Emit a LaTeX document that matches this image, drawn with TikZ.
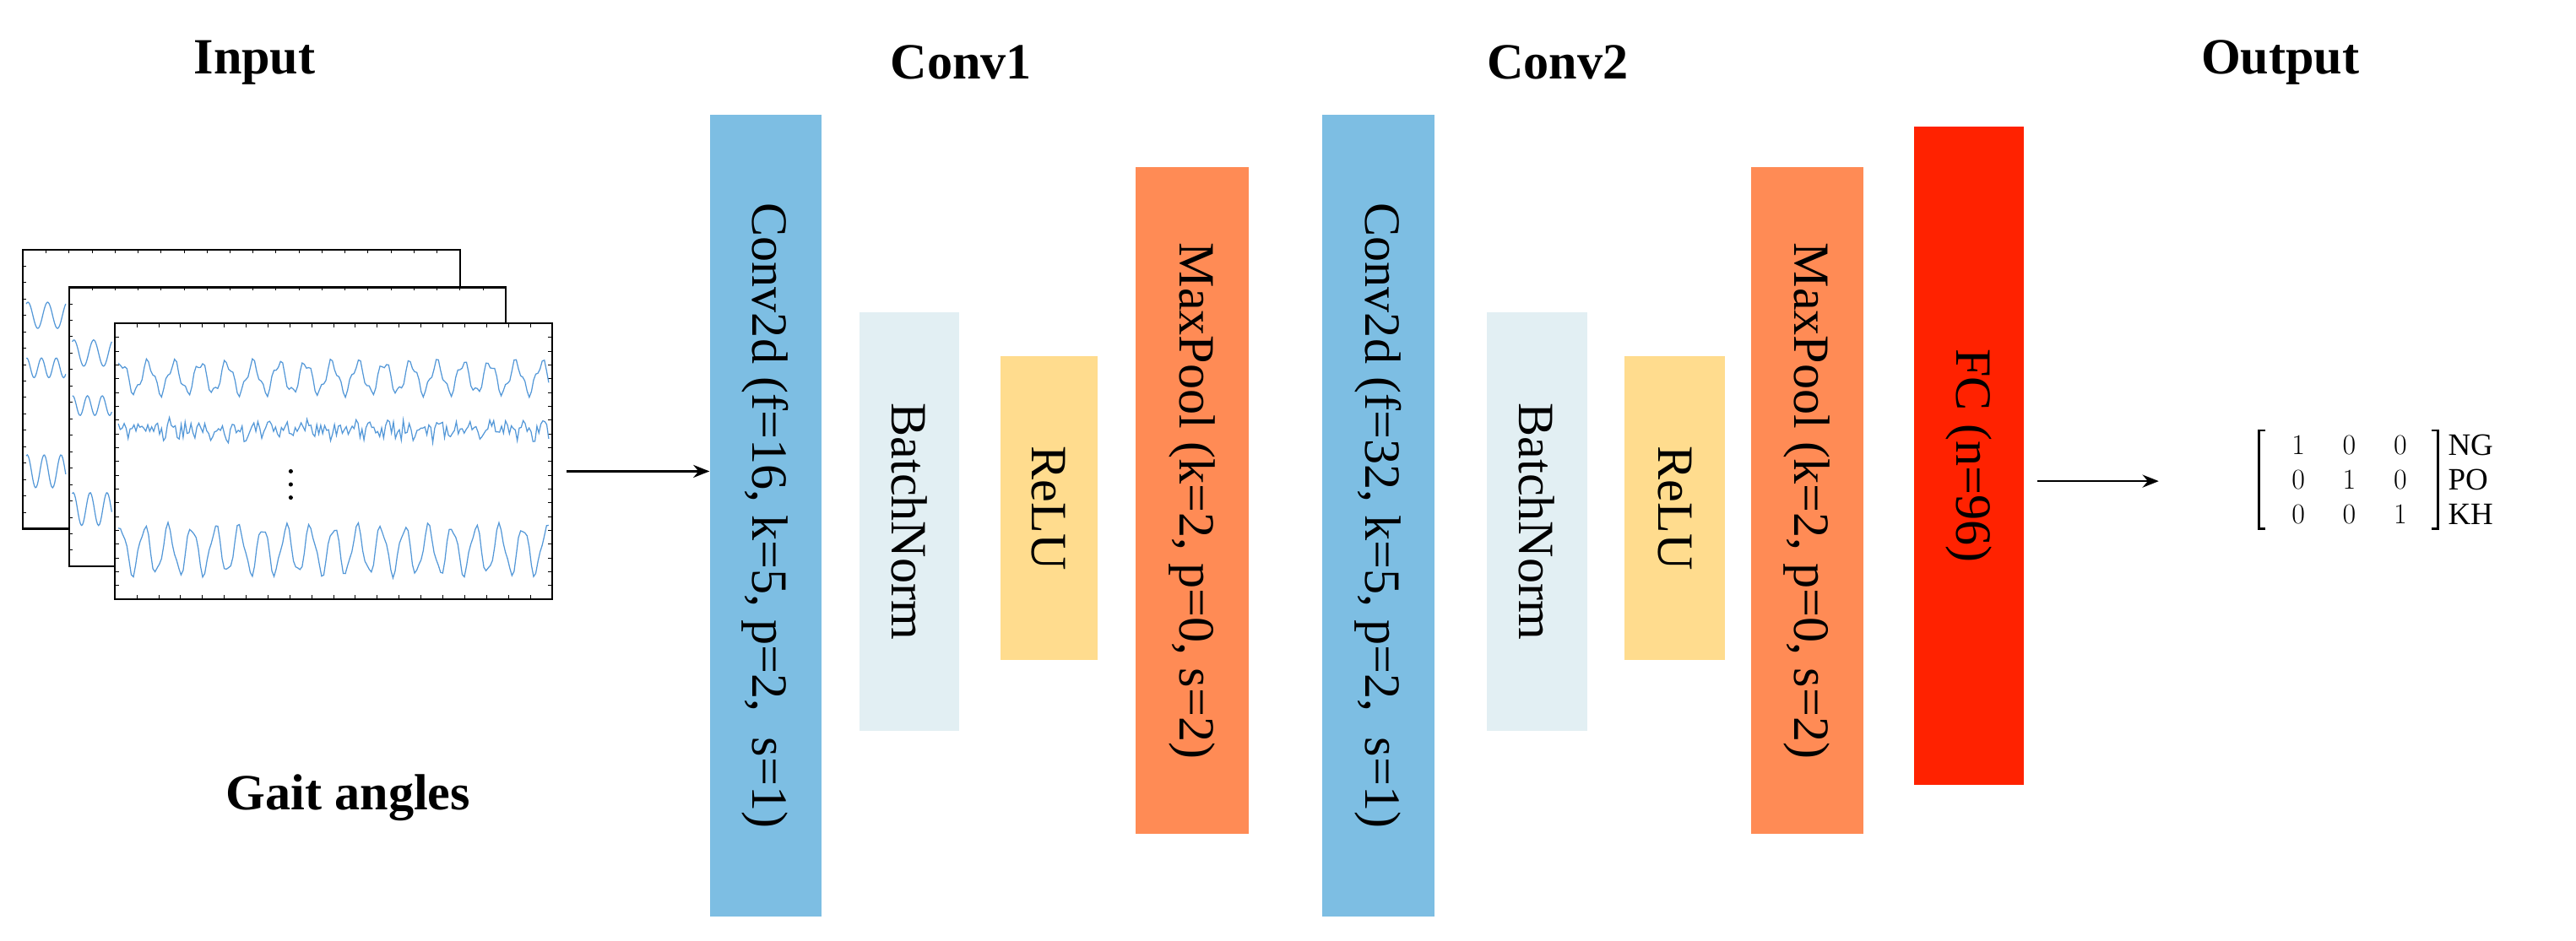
\documentclass[tikz,border=0pt]{standalone}
\usepackage{fontspec}
\setmainfont{Liberation Serif}
\usetikzlibrary{arrows.meta}
\begin{document}
\begin{tikzpicture}[x=0.05cm,y=-0.05cm,
  blk/.style={draw=none,minimum height=#1*0.05cm},
  lbl/.style={font=\fontsize{44}{48}\selectfont,rotate=-90},
  ttl/.style={font=\fontsize{44}{48}\selectfont\bfseries},
  num/.style={font=\fontsize{30}{30}\selectfont,inner sep=0pt},
  clab/.style={font=\fontsize{27}{27}\selectfont,inner sep=0pt,anchor=west},
  wave/.style={color=cyan!60!blue!70,line width=0.9pt},
  frm/.style={draw=black,line width=1.6pt,fill=white},
  brk/.style={line width=1.6pt},
  arr/.style={-{Stealth[length=14pt,width=11pt]},line width=2pt}]
\pgfmathsetseed{7}
\useasboundingbox (0,0) rectangle (1568,573);
\definecolor{cblue}{HTML}{7DBEE3}
\definecolor{bnorm}{HTML}{E2EFF3}
\definecolor{relu}{HTML}{FFDC8E}
\definecolor{mpool}{HTML}{FF8B55}
\definecolor{fcred}{HTML}{FF2200}
% titles
\node[ttl] (tin) at (155,38) {Input};
\node[ttl] (tc1) at (585,38) {Conv1};
\node[ttl] (tc2) at (948,38) {Conv2};
\node[ttl] (tout) at (1388,38) {Output};
\node[ttl] (gait) at (212,486) {Gait angles};
% stacked plots
\foreach \ox/\oy in {14/152,42/175} {
  \draw[frm] (\ox,\oy) rectangle ++(266,170);
  \foreach \t in {0,14,...,266} \draw[line width=0.6pt] (\ox+\t,\oy) -- ++(0,2);
  \foreach \t in {0,10,...,170} \draw[line width=0.6pt] (\ox,\oy+\t) -- ++(2,0);
  \draw[wave] plot[domain=2:26,samples=40] (\ox+\x,{\oy+40-8*sin(\x*30)});
  \draw[wave] plot[domain=2:26,samples=40] (\ox+\x,{\oy+72-6*sin(\x*40)});
  \draw[wave] plot[domain=2:26,samples=40] (\ox+\x,{\oy+135-10*sin(\x*35)});
}
\draw[frm] (70,197) rectangle (336,365);
\foreach \t in {0,13.3,...,266} {\draw[line width=0.6pt] (70+\t,197) -- ++(0,2.5); \draw[line width=0.6pt] (70+\t,365) -- ++(0,-2.5);}
\foreach \t in {0,8.4,...,168} {\draw[line width=0.6pt] (70,197+\t) -- ++(2.5,0); \draw[line width=0.6pt] (336,197+\t) -- ++(-2.5,0);}
\draw[wave] plot[domain=2:264,samples=200] (70+\x,{230-9*sin(\x*22.5)-3*sin(\x*61)});
\draw[wave] plot[domain=2:264,samples=220] (70+\x,{262-3*sin(\x*35)-5*rand});
\draw[wave] plot[domain=2:264,samples=200] (70+\x,{335-14*sin(\x*25)-3*sin(\x*59)});
\foreach \yy in {287,295,303} \fill (177,\yy) circle (1.3);
% blocks
\node[blk=488,fill=cblue,minimum width=68*0.05cm] (c1) at (466,314) {};
\node[lbl] at (c1) {Conv2d (f=16, k=5, p=2,~~s=1)};
\node[blk=255,fill=bnorm,minimum width=61*0.05cm] (b1) at (553.5,317.5) {};
\node[lbl] at (b1) {BatchNorm};
\node[blk=185,fill=relu,minimum width=59*0.05cm] (r1) at (638.5,309.5) {};
\node[lbl] at (r1) {ReLU};
\node[blk=406,fill=mpool,minimum width=69*0.05cm] (m1) at (725.5,305) {};
\node[lbl] at (m1) {MaxPool (k=2, p=0, s=2)};
\node[blk=488,fill=cblue,minimum width=68*0.05cm] (c2) at (839,314) {};
\node[lbl] at (c2) {Conv2d (f=32, k=5, p=2,~~s=1)};
\node[blk=255,fill=bnorm,minimum width=61*0.05cm] (b2) at (935.5,317.5) {};
\node[lbl] at (b2) {BatchNorm};
\node[blk=185,fill=relu,minimum width=61*0.05cm] (r2) at (1019.5,309.5) {};
\node[lbl] at (r2) {ReLU};
\node[blk=406,fill=mpool,minimum width=68*0.05cm] (m2) at (1100,305) {};
\node[lbl] at (m2) {MaxPool (k=2, p=0, s=2)};
\node[blk=401,fill=fcred,minimum width=67*0.05cm] (fc) at (1198.5,277.5) {};
\node[lbl] at (fc) {FC (n=96)};
% arrows
\coordinate (a1s) at (345,287);
\draw[arr] (a1s) -- (c1.west |- a1s);
\coordinate (a2s) at (1240,293);
\coordinate (a2e) at (1314,293);
\draw[arr] (a2s) -- (a2e);
% matrix
\draw[brk] (1379,262) -- (1375,262) -- (1375,322) -- (1379,322);
\draw[brk] (1480,262) -- (1484,262) -- (1484,322) -- (1480,322);
\foreach \r/\yy in {1/271,2/292,3/313}
  \foreach \c/\xx in {1/1399,2/1430,3/1461} {
    \pgfmathsetmacro{\v}{\r==\c ? 1 : 0}
    \node[num] (m\r\c) at (\xx,\yy) {\pgfmathprintnumber{\v}};
  }
\node[clab] (ng) at (1490,271) {NG};
\node[clab] (po) at (1490,292) {PO};
\node[clab] (kh) at (1490,313) {KH};
\end{tikzpicture}
\end{document}
